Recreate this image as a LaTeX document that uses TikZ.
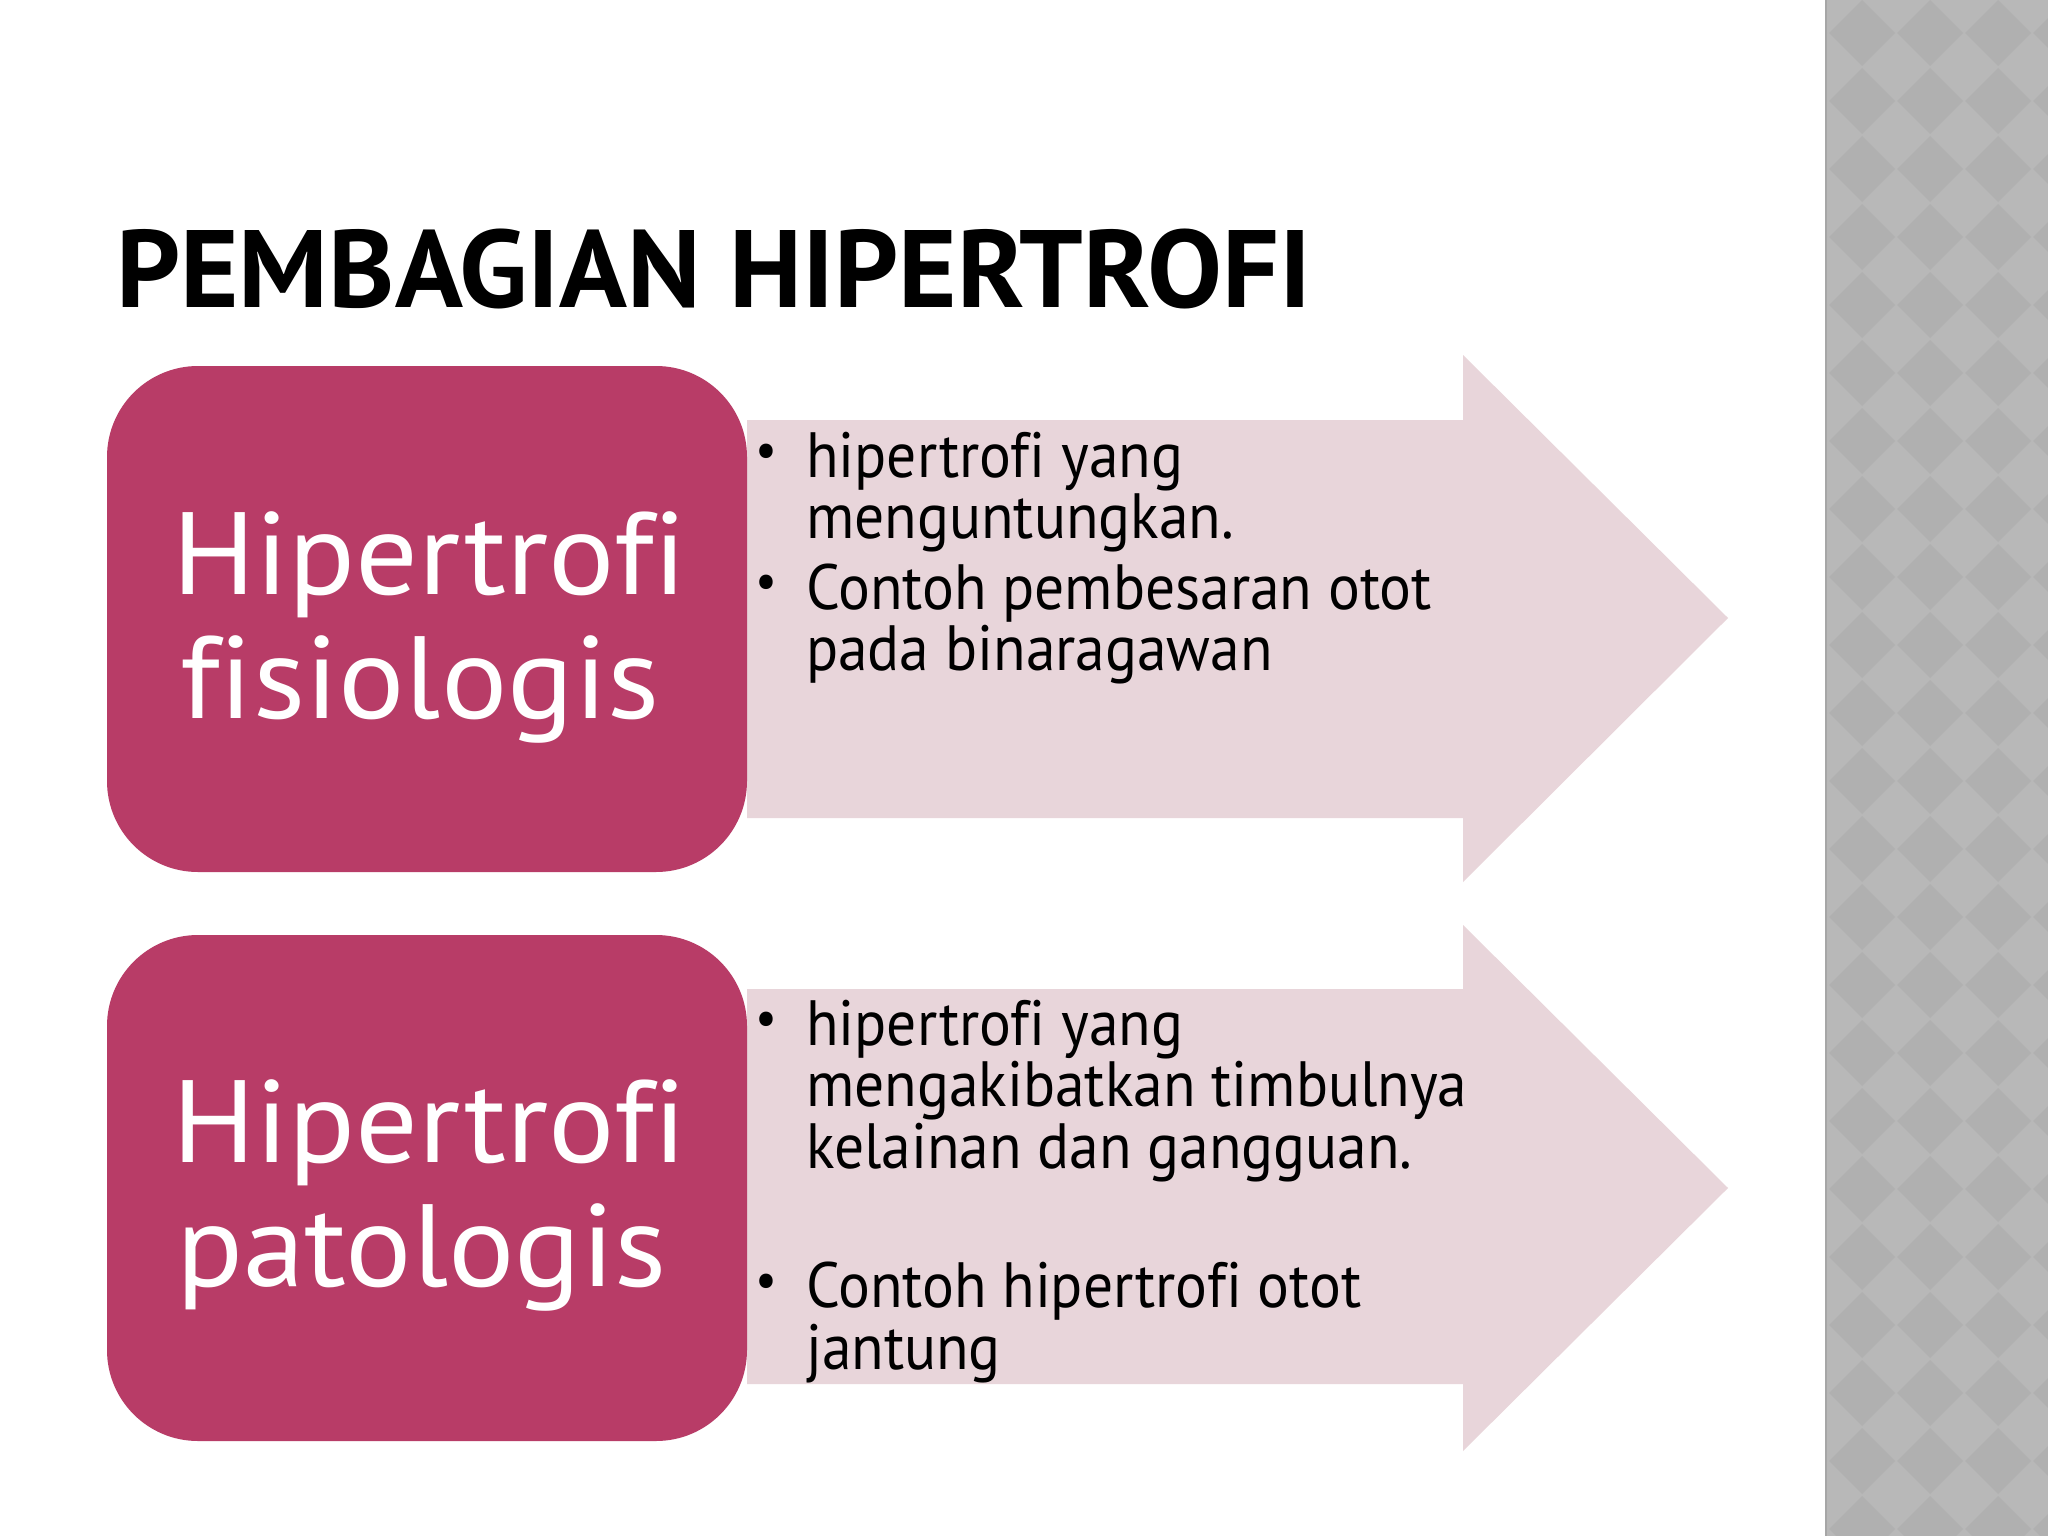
\documentclass[tikz,border=0pt]{standalone}
\usepackage{fontspec}
\setmainfont{PT Sans}
\newfontfamily\bodyfont[FakeStretch=0.93,Ligatures=NoCommon]{PT Sans}
\newfontfamily\bigfont[FakeStretch=1.06,Ligatures=NoCommon]{PT Sans}
\newfontfamily\headfont[FakeStretch=1.02,Ligatures=NoCommon]{PT Sans}
\usepackage{xcolor}
\usetikzlibrary{positioning}

\definecolor{boxpink}{HTML}{B83C67}
\definecolor{arrowpink}{HTML}{E8D5DA}
\definecolor{stripgray}{HTML}{B8B8B8}
\definecolor{diagray}{HTML}{B0B0B0}

\tikzset{
  catbox/.style={fill=boxpink, rounded corners=91pt, minimum width=640pt, minimum height=506pt, inner sep=0pt},
  boxtext/.style={text=white, font=\bigfont\fontsize{117}{124}\selectfont, inner sep=0pt, anchor=base west},
  itemtext/.style={text=black, font=\bodyfont\fontsize{64}{61}\selectfont, inner sep=0pt, anchor=base west},
  dot/.style={text=black, font=\bodyfont\fontsize{52}{52}\selectfont, inner sep=0pt, anchor=base west},
}

\begin{document}
\begin{tikzpicture}[x=1pt,y=-1pt]
\useasboundingbox (0,0) rectangle (2048,1536);
\fill[white] (0,0) rectangle (2048,1536);

% gray strip on the right
\fill[stripgray] (1826,0) rectangle (2048,1536);
\begin{scope}
  \clip (1826,0) rectangle (2048,1536);
  \foreach \i in {-1,...,3}
    \foreach \j in {-1,...,23}
      \fill[diagray] ({1862+68*\i},{33+68*\j}) +(0,-33) -- +(33,0) -- +(0,33) -- +(-33,0) -- cycle;
\end{scope}
\draw[gray!70, line width=1.5pt] (1826,0) -- (1826,1536);

% title
\node[font=\headfont\bfseries\fontsize{110}{120}\selectfont, inner sep=0pt, anchor=base west] (title) at (116,307) {PEMBAGIAN HIPERTROFI};

% arrows
\fill[arrowpink] (747,420) -- (1463,420) -- (1463,355) -- (1728,618) -- (1463,882) -- (1463,818) -- (747,818) -- cycle;
\fill[arrowpink] (747,989) -- (1463,989) -- (1463,925) -- (1728,1188) -- (1463,1451) -- (1463,1384) -- (747,1384) -- cycle;

% boxes
\node[catbox] (fisbox) at (427,619) {};
\node[catbox] (patbox) at (427,1188) {};

\node[boxtext] (fis1) at (172,594) {Hipertrofi};
\node[boxtext] (fis2) at (180,718) {fisiologis};
\node[boxtext] (pat1) at (172,1162) {Hipertrofi};
\node[boxtext] (pat2) at (176,1286) {patologis};

% top arrow items
\node[dot] (b1) at (755,467) {•};
\node[itemtext] (t1) at (806,477) {hipertrofi yang};
\node[itemtext] (t2) at (806,538) {menguntungkan.};
\node[dot] (b2) at (755,598) {•};
\node[itemtext] (t3) at (806,609) {Contoh pembesaran otot};
\node[itemtext] (t4) at (806,670) {pada binaragawan};

% bottom arrow items
\node[dot] (b3) at (755,1035) {•};
\node[itemtext] (u1) at (806,1045) {hipertrofi yang};
\node[itemtext] (u2) at (806,1106) {mengakibatkan timbulnya};
\node[itemtext] (u3) at (806,1168) {kelainan dan gangguan.};
\node[dot] (b4) at (755,1297) {•};
\node[itemtext] (u4) at (806,1307) {Contoh hipertrofi otot};
\node[itemtext] (u5) at (806,1369) {jantung};
\end{tikzpicture}
\end{document}
